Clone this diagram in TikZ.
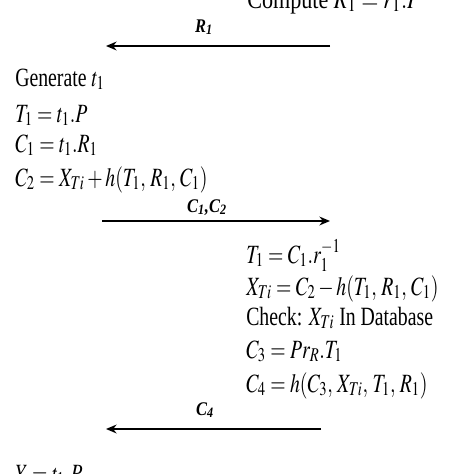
\documentclass[tikz,border=0pt]{standalone}
\usepackage{amsmath}
\usepackage{mathptmx}
\usepackage[no-math]{fontspec}
\setmainfont{Liberation Serif}
\usetikzlibrary{arrows.meta}

\tikzset{
  step line/.style={anchor=base west, inner sep=0pt, xscale=0.75, transform shape,
    font=\fontsize{15}{17}\selectfont},
  msg label/.style={anchor=base, inner sep=0pt, xscale=0.85, transform shape,
    font=\fontsize{11}{13}\selectfont\bfseries\itshape},
  msg/.style={-{Stealth[length=6pt,width=5pt]}, line width=1.6pt}
}

\begin{document}
\begin{tikzpicture}[x=0.02cm, y=-0.02cm]
    \useasboundingbox (0,0) rectangle (474,474);
    \clip (0,0) rectangle (474,474);

    % Server side: first step
    \node[step line, xscale=1.12] (comp) at (247,8) {Compute $R_1 = r_1.P$};

    % Message R1
    \coordinate (r1from) at (330,46);
    \coordinate (r1to) at (106,46);
    \draw[msg] (r1from) -- (r1to);
    \node[msg label] (r1lab) at (204,32) {R\textsubscript{1}};

    % User side
    \node[step line] (gen) at (15,86) {Generate $t_1$};
    \node[step line] (tone) at (15,122) {$T_1 = t_1.P$};
    \node[step line] (cone) at (15,152) {$C_1 = t_1.R_1$};
    \node[step line] (ctwo) at (15,186) {$C_2 = X_{Ti} + h(T_1,\,R_1,\,C_1)$};

    % Message C1,C2
    \coordinate (c12from) at (102,221);
    \coordinate (c12to) at (330,221);
    \draw[msg] (c12from) -- (c12to);
    \node[msg label] (c12lab) at (207,212) {C\textsubscript{1},C\textsubscript{2}};

    % Server side: checks
    \node[step line] (srvt) at (246,263) {$T_1 = C_1.r_1^{-1}$};
    \node[step line] (srvx) at (246,295) {$X_{Ti} = C_2 - h(T_1,\,R_1,\,C_1)$};
    \node[step line] (check) at (246,325) {Check: $X_{Ti}$ In Database};
    \node[step line] (cthree) at (246,358) {$C_3 = Pr_R.T_1$};
    \node[step line] (cfour) at (246,392) {$C_4 = h(C_3,\,X_{Ti},\,T_1,\,R_1)$};

    % Message C4
    \coordinate (c4from) at (321,429);
    \coordinate (c4to) at (106,429);
    \draw[msg] (c4from) -- (c4to);
    \node[msg label] (c4lab) at (205,415) {C\textsubscript{4}};

    % User side: last step
    \node[step line] (ylast) at (15,482) {$Y = t_1.P_{u_n}$};
\end{tikzpicture}
\end{document}
